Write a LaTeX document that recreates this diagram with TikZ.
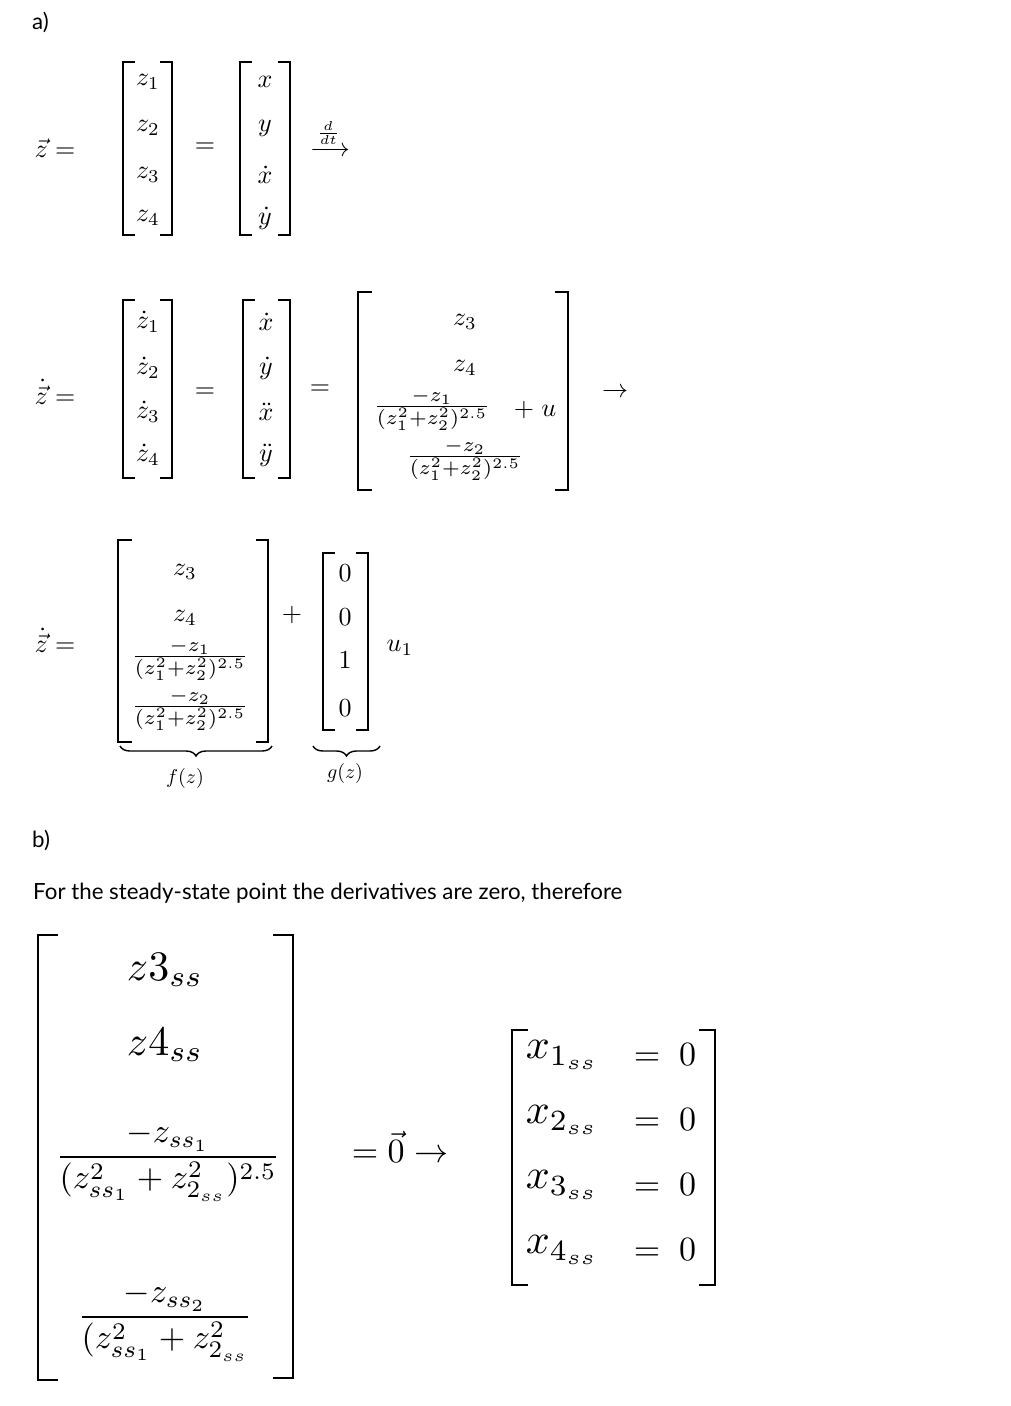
\documentclass[tikz,border=0pt]{standalone}
\usepackage{amsmath}
\usepackage{fontspec}
\newfontfamily\lato{Lato}
\usetikzlibrary{decorations.pathreplacing}
\begin{document}
\begin{tikzpicture}[x=1pt,y=-1pt,
 br/.style={line width=1.6pt},
 e/.style={inner sep=0pt,scale=2.6},
 fr/.style={inner sep=0pt,scale=2.9},
 bg/.style={inner sep=0pt,scale=4.2},
 bf/.style={inner sep=0pt,scale=3.4},
 tx/.style={inner sep=0pt,font=\lato\fontsize{22.3}{25}\selectfont,anchor=west},
 brc/.style={decorate,decoration={brace,mirror,amplitude=10pt},line width=1.4pt}]
\useasboundingbox (0,0) rectangle (1010,1406);
\node[tx] (la) at (32,22) {a)};
% row 1
\node[e] (r1l) at (55,148) {$\vec z =$};
\draw[br] (135,62) -| (123,235) -- (135,235);
\draw[br] (160,62) -| (172,235) -- (160,235);
\node[e] (a1) at (148,82) {$z_1$};
\node[e] (a2) at (148,128) {$z_2$};
\node[e] (a3) at (148,175) {$z_3$};
\node[e] (a4) at (148,218) {$z_4$};
\node[e] (q1) at (205,148) {$=$};
\draw[br] (252,62) -| (240,235) -- (252,235);
\draw[br] (278,62) -| (290,235) -- (278,235);
\node[e] (b1) at (265,82) {$x$};
\node[e] (b2) at (265,128) {$y$};
\node[e] (b3) at (265,175) {$\dot x$};
\node[e] (b4) at (265,218) {$\dot y$};
\node[e] (dd) at (330,138) {$\xrightarrow{\frac{d}{dt}}$};
% row 2
\node[e] (r2l) at (55,392) {$\dot{\vec z} =$};
\draw[br] (135,300) -| (123,478) -- (135,478);
\draw[br] (160,300) -| (172,478) -- (160,478);
\node[e] (c1) at (148,322) {$\dot z_1$};
\node[e] (c2) at (148,368) {$\dot z_2$};
\node[e] (c3) at (148,412) {$\dot z_3$};
\node[e] (c4) at (148,455) {$\dot z_4$};
\node[e] (q2) at (205,393) {$=$};
\draw[br] (255,300) -| (243,478) -- (255,478);
\draw[br] (278,300) -| (290,478) -- (278,478);
\node[e] (d1) at (266,322) {$\dot x$};
\node[e] (d2) at (266,368) {$\dot y$};
\node[e] (d3) at (266,412) {$\ddot x$};
\node[e] (d4) at (266,455) {$\ddot y$};
\node[e] (q3) at (320,390) {$=$};
\draw[br] (372,292) -| (358,490) -- (372,490);
\draw[br] (555,292) -| (568,490) -- (555,490);
\node[e] (f1) at (465,322) {$z_3$};
\node[e] (f2) at (465,368) {$z_4$};
\node[fr] (f3) at (432,410) {$\frac{-z_1}{(z_1^2+z_2^2)^{2.5}}$};
\node[e] (pu) at (535,410) {$+\;u$};
\node[fr] (f4) at (465,460) {$\frac{-z_2}{(z_1^2+z_2^2)^{2.5}}$};
\node[e] (ar2) at (615,393) {$\rightarrow$};
% row 3
\node[e] (r3l) at (55,640) {$\dot{\vec z} =$};
\draw[br] (132,540) -| (118,742) -- (132,742);
\draw[br] (256,540) -| (268,742) -- (256,742);
\node[e] (g1) at (185,572) {$z_3$};
\node[e] (g2) at (185,618) {$z_4$};
\node[fr] (g3) at (190,660) {$\frac{-z_1}{(z_1^2+z_2^2)^{2.5}}$};
\node[fr] (g4) at (190,710) {$\frac{-z_2}{(z_1^2+z_2^2)^{2.5}}$};
\node[e] (pl) at (292,615) {$+$};
\draw[br] (335,553) -| (323,730) -- (335,730);
\draw[br] (356,553) -| (368,730) -- (356,730);
\node[e] (h1) at (345,573) {$0$};
\node[e] (h2) at (345,617) {$0$};
\node[e] (h3) at (345,660) {$1$};
\node[e] (h4) at (345,708) {$0$};
\node[e] (u1) at (400,648) {$u_1$};
\coordinate (fb1) at (120,746); \coordinate (fb2) at (272,746);
\draw[brc] (fb1) -- (fb2);
\coordinate (gb1) at (313,746); \coordinate (gb2) at (380,746);
\draw[brc] (gb1) -- (gb2);
\node[inner sep=0pt,scale=2] (fz) at (185,778) {$f(z)$};
\node[inner sep=0pt,scale=2] (gz) at (345,773) {$g(z)$};
% b
\node[tx] (lb) at (32,840) {b)};
\node[tx] (txt) at (33,893) {For the steady-state point the derivatives are zero, therefore};
\draw[br] (58,935) -| (38,1380) -- (58,1380);
\draw[br] (273,935) -| (293,1378) -- (273,1378);
\node[bg] (k1) at (165,970) {$z3_{ss}$};
\node[bg] (k2) at (165,1045) {$z4_{ss}$};
\node[bf] (k3) at (168,1162) {$\dfrac{-z_{ss_1}}{(z_{ss_1}^2+z_{2_{ss}}^2)^{2.5}}$};
\node[bf] (k4) at (165,1322) {$\dfrac{-z_{ss_2}}{(z_{ss_1}^2+z_{2_{ss}}^2}$};
\node[inner sep=0pt,scale=3.4] (eq) at (400,1147) {$=\vec 0\rightarrow$};
\draw[br] (528,1030) -| (512,1285) -- (528,1285);
\draw[br] (699,1030) -| (715,1285) -- (699,1285);
\node[bg,anchor=west] (m1) at (525,1055) {$x_{1_{ss}}$};
\node[bg,anchor=west] (m2) at (525,1120) {$x_{2_{ss}}$};
\node[bg,anchor=west] (m3) at (525,1185) {$x_{3_{ss}}$};
\node[bg,anchor=west] (m4) at (525,1250) {$x_{4_{ss}}$};
\foreach \yy in {1055,1120,1185,1250}{
 \node[inner sep=0pt,scale=3.4] at (665,\yy) {$=\;0$};}
\end{tikzpicture}
\end{document}
